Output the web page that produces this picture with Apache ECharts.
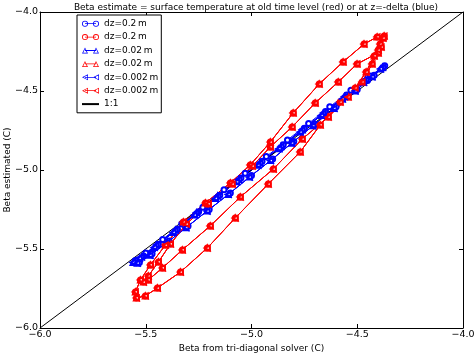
<!DOCTYPE html>
<html><head><meta charset="utf-8">
<script src="https://cdn.jsdelivr.net/npm/echarts@6/dist/echarts.min.js"></script>
<style>html,body{margin:0;padding:0;background:#fff}#c{width:474px;height:355px}</style>
</head><body><div id="c"></div>
<script>
// ---- data ----
const titleText = 'Beta estimate = surface temperature at old time level (red) or at z=-delta (blue)';
const xName = 'Beta from tri-diagonal solver (C)';
const yName = 'Beta estimated (C)';
const axisMin = -6.0, axisMax = -4.0, tickStep = 0.5;
const seriesKeys = ['b02', 'r02', 'b002', 'r002', 'b0002', 'r0002', 'one'];
const legendLabels = ['dz=0.2\u2009m', 'dz=0.2\u2009m', 'dz=0.02\u2009m', 'dz=0.02\u2009m', 'dz=0.002\u2009m', 'dz=0.002\u2009m', '1:1'];

// red: estimate = surface temperature at old time level (two cycles)
const redLoop = [
  [-4.373,-4.152],[-4.406,-4.158],[-4.468,-4.203],[-4.567,-4.316],[-4.680,-4.456],[-4.803,-4.639],
  [-4.911,-4.823],[-5.006,-4.968],[-5.100,-5.082],[-5.218,-5.209],[-5.322,-5.329],[-5.407,-5.475],
  [-5.478,-5.601],[-5.525,-5.696],[-5.549,-5.772],[-5.544,-5.810],
  [-5.502,-5.797],[-5.445,-5.747],[-5.336,-5.646],[-5.209,-5.494],[-5.077,-5.304],[-4.921,-5.089],
  [-4.770,-4.886],[-4.675,-4.715],[-4.581,-4.570],[-4.510,-4.481],[-4.458,-4.380],[-4.420,-4.278],
  [-4.392,-4.203],[-4.378,-4.165],
  [-4.387,-4.222],[-4.401,-4.259],[-4.501,-4.329],[-4.590,-4.443],[-4.699,-4.576],[-4.808,-4.728],
  [-4.911,-4.854],[-4.996,-4.975],[-5.091,-5.089],[-5.204,-5.215],[-5.308,-5.342],[-5.383,-5.468],
  [-5.440,-5.582],[-5.488,-5.671],[-5.511,-5.709],
  [-5.488,-5.696],[-5.421,-5.620],[-5.327,-5.506],[-5.195,-5.354],[-5.053,-5.171],[-4.897,-4.994],
  [-4.760,-4.804],[-4.637,-4.665],[-4.543,-4.538],[-4.477,-4.443],[-4.430,-4.329],[-4.401,-4.241]
];
// blue: estimate at z=-delta, coarse grid
const blueCoarse = [
  [-4.37,-4.34],[-4.44,-4.405],[-4.53,-4.495],[-4.63,-4.60],[-4.73,-4.705],[-4.83,-4.81],[-4.93,-4.915],
  [-5.03,-5.02],[-5.13,-5.125],[-5.23,-5.235],[-5.33,-5.34],[-5.42,-5.44],[-5.50,-5.525],[-5.55,-5.575],
  [-5.53,-5.585],[-5.47,-5.53],[-5.39,-5.45],[-5.30,-5.355],[-5.20,-5.25],[-5.10,-5.145],[-5.00,-5.035],
  [-4.90,-4.93],[-4.80,-4.82],[-4.70,-4.71],[-4.60,-4.60],[-4.50,-4.49],[-4.42,-4.40],[-4.38,-4.355],
  [-4.45,-4.43],[-4.55,-4.525],[-4.65,-4.63],[-4.75,-4.735],[-4.85,-4.84],[-4.95,-4.945],[-5.05,-5.05],
  [-5.15,-5.16],[-5.25,-5.265],[-5.35,-5.375],[-5.44,-5.47],[-5.51,-5.545],[-5.54,-5.57]
];
// blue: finer grids
const blueFine = [
  [-4.38,-4.35],[-4.46,-4.43],[-4.56,-4.535],[-4.66,-4.64],[-4.76,-4.745],[-4.86,-4.85],[-4.96,-4.955],
  [-5.06,-5.06],[-5.16,-5.165],[-5.26,-5.27],[-5.36,-5.38],[-5.45,-5.475],[-5.52,-5.55],[-5.56,-5.585],
  [-5.54,-5.59],[-5.48,-5.54],[-5.40,-5.46],[-5.31,-5.365],[-5.21,-5.26],[-5.11,-5.155],[-5.01,-5.045],
  [-4.91,-4.94],[-4.81,-4.83],[-4.71,-4.72],[-4.61,-4.61],[-4.51,-4.50],[-4.43,-4.41],[-4.39,-4.36],
  [-4.47,-4.445],[-4.57,-4.55],[-4.67,-4.655],[-4.77,-4.76],[-4.87,-4.865],[-4.97,-4.97],[-5.07,-5.075],
  [-5.17,-5.18],[-5.27,-5.285],[-5.37,-5.395],[-5.46,-5.49],[-5.53,-5.56]
];
const oneToOne = [[-6.0,-6.0],[-4.0,-4.0]];

// ---- chart ----
const FONT = 'DejaVu Sans';
const BLUE = '#0000ff', RED = '#ff0000';
const fmt = v => v.toFixed(1).replace('-', '\u2212');

// legend icons: line with a hollow marker at each end (matplotlib style)
const BAR = 'M3 2.6L14 2.6L14 3.4L3 3.4Z';
function ringCircle(cx) {
  return 'M' + (cx - 3) + ' 3A3 3 0 1 1 ' + (cx + 3) + ' 3A3 3 0 1 1 ' + (cx - 3) + ' 3Z' +
         'M' + (cx - 2.2) + ' 3A2.2 2.2 0 1 0 ' + (cx + 2.2) + ' 3A2.2 2.2 0 1 0 ' + (cx - 2.2) + ' 3Z';
}
function ringUp(cx) {
  return 'M' + (cx - 3) + ' 6L' + cx + ' 0L' + (cx + 3) + ' 6Z' +
         'M' + (cx - 1.8) + ' 5.3L' + (cx + 1.8) + ' 5.3L' + cx + ' 1.5Z';
}
function ringLeft(cx) {
  return 'M' + (cx - 3) + ' 3L' + (cx + 3) + ' 0L' + (cx + 3) + ' 6Z' +
         'M' + (cx - 1.5) + ' 3L' + (cx + 2.3) + ' 4.9L' + (cx + 2.3) + ' 1.1Z';
}
const iconCircle = 'path://' + ringCircle(3) + ringCircle(14) + BAR;
const iconUp = 'path://' + ringUp(3) + ringUp(14) + BAR;
const iconLeft = 'path://' + ringLeft(3) + ringLeft(14) + BAR;
const legendIcons = [iconCircle, iconCircle, iconUp, iconUp, iconLeft, iconLeft, null];

function mk(key, data, color, symbol, rot) {
  return {
    name: key, type: 'line', data: data,
    symbol: symbol, symbolSize: 5, symbolRotate: rot,
    showSymbol: true, animation: false,
    lineStyle: { color: color, width: 1 },
    itemStyle: { color: color, borderColor: color, borderWidth: 0.7 },
    emphasis: { disabled: true }
  };
}

const series = [
  mk(seriesKeys[0], blueCoarse, BLUE, 'emptyCircle', 0),
  mk(seriesKeys[1], redLoop, RED, 'emptyCircle', 0),
  mk(seriesKeys[2], blueFine, BLUE, 'emptyTriangle', 0),
  mk(seriesKeys[3], redLoop, RED, 'emptyTriangle', 0),
  mk(seriesKeys[4], blueFine, BLUE, 'emptyTriangle', 90),
  mk(seriesKeys[5], redLoop, RED, 'emptyTriangle', 90),
  { name: seriesKeys[6], type: 'line', data: oneToOne, symbol: 'none', animation: false,
    lineStyle: { color: '#000', width: 1 }, itemStyle: { color: '#000' } }
];

const baseAxis = {
  type: 'value', min: axisMin, max: axisMax, interval: tickStep,
  axisLine: { show: true, onZero: false, lineStyle: { color: '#000', width: 1 } },
  axisTick: { show: true, inside: true, length: 4, lineStyle: { color: '#000' } },
  splitLine: { show: false }
};

const legendData = seriesKeys.map((k, i) => legendIcons[i]
  ? { name: k, icon: legendIcons[i], itemStyle: { borderWidth: 0 } }
  : { name: k, itemStyle: { opacity: 0 } });

const chart = echarts.init(document.getElementById('c'), null, { renderer: 'canvas' });
chart.setOption({
  animation: false,
  backgroundColor: '#fff',
  title: { text: titleText, left: 251, top: -2, textAlign: 'center',
    textStyle: { fontFamily: FONT, fontSize: 9, fontWeight: 'normal', color: '#000' } },
  grid: { left: 40, right: 11, top: 12, bottom: 27, containLabel: false, outerBoundsMode: 'none' },
  legend: {
    left: 77, top: 15, orient: 'vertical',
    data: legendData,
    formatter: name => legendLabels[seriesKeys.indexOf(name)],
    backgroundColor: '#fff', borderColor: '#000', borderWidth: 1,
    padding: [2, 3, 2, 4], itemGap: 0, itemWidth: 17, itemHeight: 6,
    textStyle: { fontFamily: FONT, fontSize: 9, color: '#000', lineHeight: 13.4 },
    selectedMode: false
  },
  xAxis: [
    Object.assign({}, baseAxis, { position: 'bottom',
      axisLabel: { show: true, margin: 2, formatter: fmt, fontFamily: FONT, fontSize: 9.5, color: '#000' },
      name: xName, nameLocation: 'middle', nameGap: 16, nameMoveOverlap: false,
      nameTextStyle: { fontFamily: FONT, fontSize: 9, color: '#000' } }),
    Object.assign({}, baseAxis, { position: 'top', axisLabel: { show: false } })
  ],
  yAxis: [
    Object.assign({}, baseAxis, { position: 'left',
      axisLabel: { show: true, margin: 2, formatter: fmt, fontFamily: FONT, fontSize: 9.5, color: '#000' },
      name: yName, nameLocation: 'middle', nameGap: 28, nameMoveOverlap: false,
      nameTextStyle: { fontFamily: FONT, fontSize: 9, color: '#000' } }),
    Object.assign({}, baseAxis, { position: 'right', axisLabel: { show: false } })
  ],
  series: series
});
</script></body></html>
